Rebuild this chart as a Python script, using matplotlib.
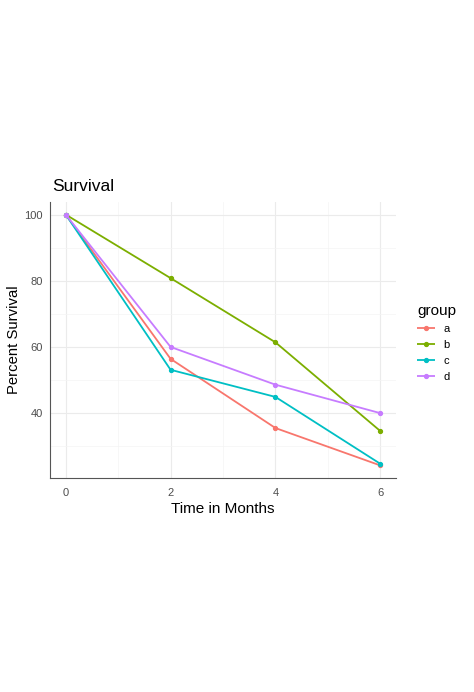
import matplotlib
matplotlib.use('Agg')
import matplotlib.pyplot as plt
from matplotlib.ticker import MultipleLocator

plt.rcParams['font.family'] = ['Liberation Sans', 'DejaVu Sans']

months = [0, 2, 4, 6]
groups = ['a', 'b', 'c', 'd']
survival = {
    'a': [100, 56.4, 35.5, 24.2],
    'b': [100, 80.8, 61.4, 34.6],
    'c': [100, 53.1, 44.9, 24.7],
    'd': [100, 60.0, 48.6, 40.0],
}
colors = {'a': '#F8766D', 'b': '#7CAE00', 'c': '#00BFC4', 'd': '#C77CFF'}

W, H = 474, 692
fig = plt.figure(figsize=(W / 100, H / 100), dpi=100)
ax = fig.add_axes([50 / W, (H - 478) / H, (396 - 50) / W, (478 - 202) / H])

for g in groups:
    ax.plot(months, survival[g], color=colors[g], lw=1.3, marker='o', ms=2.8,
            label=g, solid_capstyle='butt')

ax.set_xlim(-0.3, 6.3)
ax.set_ylim(20.4, 103.8)
ax.xaxis.set_major_locator(MultipleLocator(2))
ax.xaxis.set_minor_locator(MultipleLocator(1))
ax.yaxis.set_major_locator(MultipleLocator(20))
ax.yaxis.set_minor_locator(MultipleLocator(10))
ax.grid(which='major', color='#ebebeb', lw=0.8)
ax.grid(which='minor', color='#f4f4f4', lw=0.5)
ax.set_axisbelow(True)

for s in ['top', 'right']:
    ax.spines[s].set_visible(False)
for s in ['left', 'bottom']:
    ax.spines[s].set_color('#555555')
    ax.spines[s].set_linewidth(0.8)

ax.tick_params(which='both', length=0, labelsize=8, labelcolor='#4d4d4d')
ax.tick_params(axis='x', pad=7)
ax.tick_params(axis='y', pad=5)
ax.set_xlabel('Time in Months', fontsize=11, labelpad=3)
ax.set_ylabel('Percent Survival', fontsize=10.7, labelpad=2.5)
ax.set_title('Survival', fontsize=12.5, loc='left', pad=8, x=0.005)

leg = ax.legend(title='group', loc='center left', bbox_to_anchor=(1.032, 0.489),
                frameon=False, fontsize=8, title_fontsize=11, handlelength=1.6,
                labelspacing=0.55, alignment='left')

fig.savefig('out.png', dpi=100)
